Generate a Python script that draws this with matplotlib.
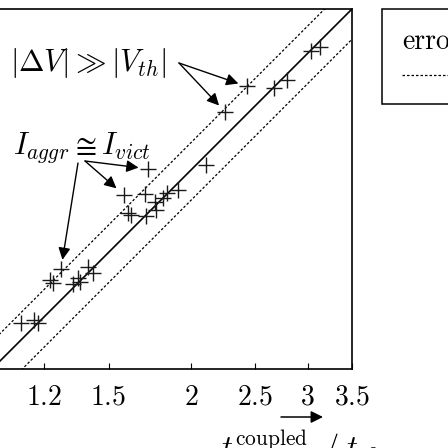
import numpy as np
import matplotlib
matplotlib.use('Agg')
import matplotlib.pyplot as plt
from matplotlib.lines import Line2D

# ---- data ----
x_vals = [3.133, 3.032, 2.790, 2.670, 2.428, 2.252, 2.109, 1.722, 1.582, 1.706,
          1.837, 1.908, 1.814, 1.762, 1.768, 1.711, 1.606, 1.621, 1.271, 1.223,
          1.237, 1.327, 1.351, 1.399, 1.422, 1.360, 1.106, 1.158, 1.175]
y_vals = [3.064, 3.022, 2.736, 2.661, 2.673, 2.445, 2.036, 2.007, 1.834, 1.840,
          1.846, 1.866, 1.815, 1.786, 1.742, 1.704, 1.719, 1.707, 1.414, 1.361,
          1.351, 1.344, 1.372, 1.424, 1.398, 1.353, 1.173, 1.186, 1.172]
axis_range = [1.0, 3.5]
error_band = 0.1
tick_values = [1.2, 1.5, 2, 2.5, 3, 3.5]
tick_labels = ['1.2', '1.5', '2', '2.5', '3', '3.5']
dv_targets = [4, 5]          # points pointed to by the |dV| >> |Vth| arrows
iaggr_targets = [7, 8, 18]   # points pointed to by the I_aggr ~ I_vict arrows

plt.rcParams['mathtext.fontset'] = 'cm'
plt.rcParams['font.family'] = 'serif'
plt.rcParams['font.serif'] = ['cmr10', 'DejaVu Serif']

W = H = 448
fig = plt.figure(figsize=(4.48, 4.48), dpi=100)
ax = fig.add_axes([-8 / W, 1 - 369 / H, 360 / W, 360 / H])
ax.set_xscale('log')
ax.set_yscale('log')
ax.set_xlim(axis_range)
ax.set_ylim(axis_range)

dots = (0, (2.0, 1.6))
xx = np.array(axis_range)
ax.plot(xx, xx, color='black', lw=1.2)
ax.plot(xx, xx * (1 + error_band), color='black', lw=0.9, ls=dots)
ax.plot(xx, xx * (1 - error_band), color='black', lw=0.9, ls=dots)
ax.plot(x_vals, y_vals, ls='none', marker='+', ms=11, mew=1.0, color='#1a1a1a')

ax.minorticks_off()
ax.set_xticks(tick_values)
ax.set_xticklabels(['$' + t + '$' for t in tick_labels], fontsize=20)
ax.set_yticks(tick_values)
ax.set_yticklabels([])
ax.tick_params(direction='in', length=4, width=0.8, pad=11)
for s in ax.spines.values():
    s.set_linewidth(1.2)

# x label (offset, partly cut off as in reference)
fig.text(221 / W, -9 / H, r'$t_{p}^{\mathrm{coupled}}\;\;/\;t_{p0}$', fontsize=22,
         ha='left', va='baseline')
ax.annotate('', xy=(323, H - 417), xycoords='figure pixels',
            xytext=(281, H - 417), textcoords='figure pixels',
            arrowprops=dict(arrowstyle='-|>', color='black', lw=1.1,
                            mutation_scale=18, shrinkA=0, shrinkB=0))

# annotations
fig.text(88 / W, 1 - 63 / H, r'$|\mathit{\Delta} V| \gg |V_{th}|$', fontsize=22,
         ha='center', va='center')
for i in dv_targets:
    ax.annotate('', xy=(x_vals[i], y_vals[i]), xycoords='data',
                xytext=(179, H - 63), textcoords='figure pixels',
                arrowprops=dict(arrowstyle='-|>', color='black', lw=1.0,
                                mutation_scale=18, shrinkA=0, shrinkB=6.5))

fig.text(82 / W, 1 - 148 / H, r'$I_{aggr} \cong I_{vict}$', fontsize=22,
         ha='center', va='center')
starts = [(85, H - 161), (85, H - 161), (78, H - 163)]
for i, st in zip(iaggr_targets, starts):
    ax.annotate('', xy=(x_vals[i], y_vals[i]), xycoords='data',
                xytext=st, textcoords='figure pixels',
                arrowprops=dict(arrowstyle='-|>', color='black', lw=1.0,
                                mutation_scale=18, shrinkA=0, shrinkB=7))

# legend (partly outside the canvas)
handle = Line2D([], [], color='black', lw=0.9, ls=dots)
leg = fig.legend([handle], [r'$\pm 10\%$'], title='error', loc='upper left',
                 bbox_to_anchor=(382 / W, 1 - 9 / H), bbox_transform=fig.transFigure,
                 borderaxespad=0, fancybox=False, edgecolor='black', framealpha=1,
                 fontsize=12, title_fontsize=20, alignment='left',
                 handlelength=3.2, borderpad=1.2, labelspacing=0.6)
leg.get_frame().set_linewidth(1.1)

fig.savefig('out.png', dpi=100)
